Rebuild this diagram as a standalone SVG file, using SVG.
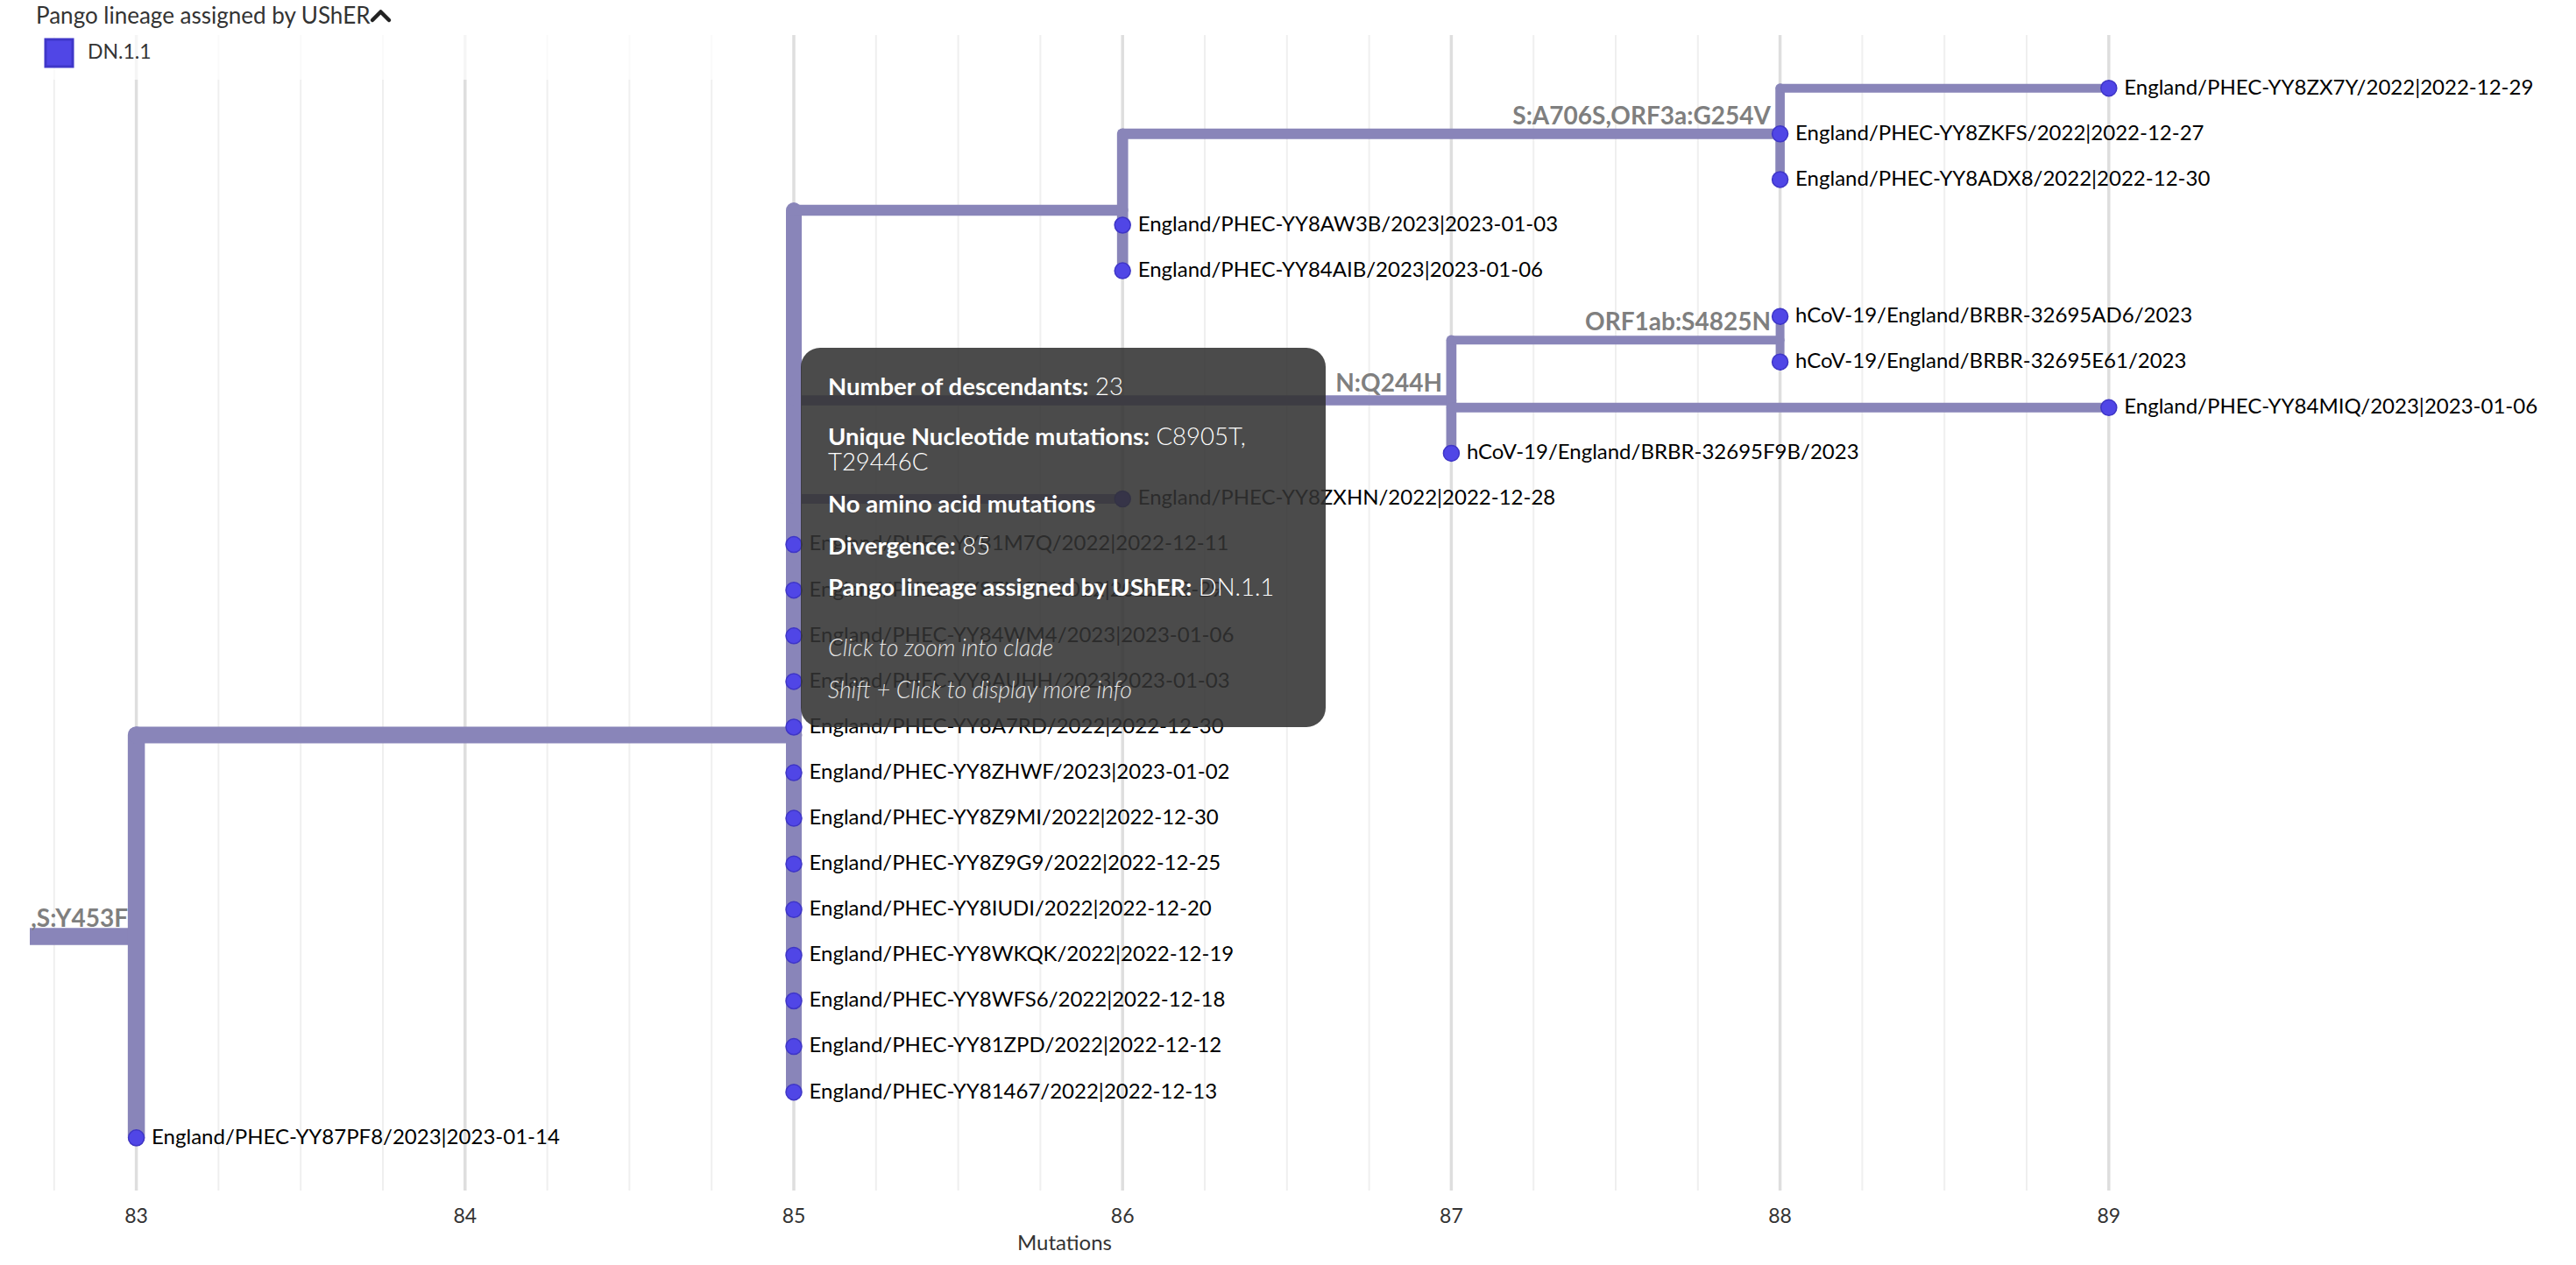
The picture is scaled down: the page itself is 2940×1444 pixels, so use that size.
<svg xmlns="http://www.w3.org/2000/svg" width="2940" height="1444" viewBox="0 0 2940 1444">
<style>
  .minor{stroke:#efefef;stroke-width:2}
  .major{stroke:#dedede;stroke-width:3.5}
  .br{fill:none;stroke:#8985b9;stroke-linecap:round}
  .dot{fill:#5046e6;stroke:#3e35c6;stroke-width:1.5}
  .lf{font-family:Lato,"Liberation Sans",sans-serif;font-size:24px;fill:#000}
  .mut{font-family:Lato,"Liberation Sans",sans-serif;font-size:28px;font-weight:700;fill:#7f7f7f;text-anchor:end}
  .ax{font-family:Lato,"Liberation Sans",sans-serif;font-size:23px;fill:#333;text-anchor:middle}
  .tt{font-family:Lato,"Liberation Sans",sans-serif;font-size:27.5px;fill:#fff}
  .tb{font-weight:700}
  .tl{font-weight:300}
  .ti{font-weight:300;font-style:italic;fill:#e4e4e4;font-size:26.5px}
  .lg{font-family:Lato,"Liberation Sans",sans-serif;font-size:26px;fill:#333}
</style>
<defs>
  <clipPath id="plot"><rect x="34" y="0" width="2906" height="1444"/></clipPath>
</defs>
<rect width="2940" height="1444" fill="#fff"/>
<g id="grid">
  <path class="minor" d="M61.8,40V1359 M249.4,40V1359 M343.2,40V1359 M437,40V1359 M624.6,40V1359 M718.4,40V1359 M812.2,40V1359 M999.8,40V1359 M1093.6,40V1359 M1187.4,40V1359 M1375,40V1359 M1468.8,40V1359 M1562.6,40V1359 M1750.2,40V1359 M1844,40V1359 M1937.8,40V1359 M2125.4,40V1359 M2219.2,40V1359 M2313,40V1359"/>
  <path class="major" d="M155.6,40V1359 M530.8,40V1359 M906,40V1359 M1281.2,40V1359 M1656.4,40V1359 M2031.6,40V1359 M2406.8,40V1359"/>
  <rect x="0" y="36" width="880" height="55" fill="#fff" opacity="0.7"/>
</g>
<g id="axis">
  <text class="ax" x="155.6" y="1396">83</text>
  <text class="ax" x="530.8" y="1396">84</text>
  <text class="ax" x="906" y="1396">85</text>
  <text class="ax" x="1281.2" y="1396">86</text>
  <text class="ax" x="1656.4" y="1396">87</text>
  <text class="ax" x="2031.6" y="1396">88</text>
  <text class="ax" x="2406.8" y="1396">89</text>
  <text class="ax" x="1215" y="1427" style="font-size:24px">Mutations</text>
</g>
<g id="legend">
  <text class="lg" x="41" y="27">Pango lineage assigned by UShER</text>
  <path d="M425,23 L434.5,13.5 L444,23" fill="none" stroke="#222" stroke-width="4.5" stroke-linecap="round" stroke-linejoin="round"/>
  <rect x="52" y="45" width="31" height="31" fill="#5046e6" stroke="#3f37c9" stroke-width="3"/>
  <text class="lg" x="100" y="67" style="font-size:23px">DN.1.1</text>
</g>
<g id="connectors" clip-path="url(#plot)">
  <path class="br" d="M30,1069H155.6" style="stroke-width:19.5;stroke-linecap:butt"/>
  <path class="br" d="M155.6,839V1298.8" style="stroke-width:19.5"/>
  <path class="br" d="M155.6,839H906" style="stroke-width:19"/>
  <path class="br" d="M906,240V1246.7" style="stroke-width:18"/>
  <path class="br" d="M906,240H1281.2" style="stroke-width:12.7"/>
  <path class="br" d="M1281.2,152.8V309.1" style="stroke-width:12.7"/>
  <path class="br" d="M1281.2,152.8H2031.6" style="stroke-width:12"/>
  <path class="br" d="M2031.6,100.7V204.9" style="stroke-width:10.7"/>
  <path class="br" d="M2031.6,100.7H2406.8" style="stroke-width:10"/>
  <path class="br" d="M906,457H1656.4" style="stroke-width:11.7"/>
  <path class="br" d="M1656.4,388.3V517.4" style="stroke-width:11.7"/>
  <path class="br" d="M1656.4,388.3H2031.6" style="stroke-width:10"/>
  <path class="br" d="M2031.6,361.2V413.2" style="stroke-width:10"/>
  <path class="br" d="M1656.4,465.3H2406.8" style="stroke-width:11"/>
  <path class="br" d="M906,569.5H1281.2" style="stroke-width:11"/>
  <text class="mut" x="146" y="1058">,S:Y453F</text>
  <text class="mut" x="2021" y="142">S:A706S,ORF3a:G254V</text>
  <text class="mut" x="2021" y="377">ORF1ab:S4825N</text>
  <text class="mut" x="1646" y="447">N:Q244H</text>
</g>
<g id="n-ZX7Y"><circle class="dot" cx="2406.8" cy="100.7" r="9"/><text class="lf" x="2424.3" y="107.5">England/PHEC-YY8ZX7Y/2022|2022-12-29</text></g>
<g id="n-ZKFS"><circle class="dot" cx="2031.6" cy="152.8" r="9"/><text class="lf" x="2049.1" y="159.6">England/PHEC-YY8ZKFS/2022|2022-12-27</text></g>
<g id="n-ADX8"><circle class="dot" cx="2031.6" cy="204.9" r="9"/><text class="lf" x="2049.1" y="211.7">England/PHEC-YY8ADX8/2022|2022-12-30</text></g>
<g id="n-AW3B"><circle class="dot" cx="1281.2" cy="257" r="9"/><text class="lf" x="1298.7" y="263.8">England/PHEC-YY8AW3B/2023|2023-01-03</text></g>
<g id="n-AIB"><circle class="dot" cx="1281.2" cy="309.1" r="9"/><text class="lf" x="1298.7" y="315.9">England/PHEC-YY84AIB/2023|2023-01-06</text></g>
<g id="n-AD6"><circle class="dot" cx="2031.6" cy="361.2" r="9"/><text class="lf" x="2049.1" y="368">hCoV-19/England/BRBR-32695AD6/2023</text></g>
<g id="n-E61"><circle class="dot" cx="2031.6" cy="413.2" r="9"/><text class="lf" x="2049.1" y="420">hCoV-19/England/BRBR-32695E61/2023</text></g>
<g id="n-MIQ"><circle class="dot" cx="2406.8" cy="465.3" r="9"/><text class="lf" x="2424.3" y="472.1">England/PHEC-YY84MIQ/2023|2023-01-06</text></g>
<g id="n-F9B"><circle class="dot" cx="1656.4" cy="517.4" r="9"/><text class="lf" x="1673.9" y="524.2">hCoV-19/England/BRBR-32695F9B/2023</text></g>
<g id="n-ZXHN"><circle class="dot" cx="1281.2" cy="569.5" r="9"/><text class="lf" x="1298.7" y="576.3">England/PHEC-YY8ZXHN/2022|2022-12-28</text></g>
<g id="n-M7Q"><circle class="dot" cx="906" cy="621.6" r="9"/><text class="lf" x="923.5" y="628.4">England/PHEC-YY81M7Q/2022|2022-12-11</text></g>
<g id="n-M9F"><circle class="dot" cx="906" cy="673.7" r="9"/><text class="lf" x="923.5" y="680.5">England/PHEC-YY87M9F/2022|2022-12-29</text></g>
<g id="n-WM4"><circle class="dot" cx="906" cy="725.8" r="9"/><text class="lf" x="923.5" y="732.6">England/PHEC-YY84WM4/2023|2023-01-06</text></g>
<g id="n-AUHH"><circle class="dot" cx="906" cy="777.9" r="9"/><text class="lf" x="923.5" y="784.7">England/PHEC-YY8AUHH/2023|2023-01-03</text></g>
<g id="n-A7RD"><circle class="dot" cx="906" cy="830" r="9"/><text class="lf" x="923.5" y="836.8">England/PHEC-YY8A7RD/2022|2022-12-30</text></g>
<g id="n-ZHWF"><circle class="dot" cx="906" cy="882.1" r="9"/><text class="lf" x="923.5" y="888.9">England/PHEC-YY8ZHWF/2023|2023-01-02</text></g>
<g id="n-Z9MI"><circle class="dot" cx="906" cy="934.1" r="9"/><text class="lf" x="923.5" y="940.9">England/PHEC-YY8Z9MI/2022|2022-12-30</text></g>
<g id="n-Z9G9"><circle class="dot" cx="906" cy="986.2" r="9"/><text class="lf" x="923.5" y="993">England/PHEC-YY8Z9G9/2022|2022-12-25</text></g>
<g id="n-IUDI"><circle class="dot" cx="906" cy="1038.3" r="9"/><text class="lf" x="923.5" y="1045.1">England/PHEC-YY8IUDI/2022|2022-12-20</text></g>
<g id="n-WKQK"><circle class="dot" cx="906" cy="1090.4" r="9"/><text class="lf" x="923.5" y="1097.2">England/PHEC-YY8WKQK/2022|2022-12-19</text></g>
<g id="n-WFS6"><circle class="dot" cx="906" cy="1142.5" r="9"/><text class="lf" x="923.5" y="1149.3">England/PHEC-YY8WFS6/2022|2022-12-18</text></g>
<g id="n-1ZPD"><circle class="dot" cx="906" cy="1194.6" r="9"/><text class="lf" x="923.5" y="1201.4">England/PHEC-YY81ZPD/2022|2022-12-12</text></g>
<g id="n-1467"><circle class="dot" cx="906" cy="1246.7" r="9"/><text class="lf" x="923.5" y="1253.5">England/PHEC-YY81467/2022|2022-12-13</text></g>
<g id="n-87PF8"><circle class="dot" cx="155.6" cy="1298.8" r="9"/><text class="lf" x="173.1" y="1305.6">England/PHEC-YY87PF8/2023|2023-01-14</text></g>
<g id="tooltip">
  <rect x="914" y="397" width="599" height="433" rx="22" fill="#323232" opacity="0.88"/>
  <text class="tt" x="945" y="451"><tspan class="tb">Number of descendants:</tspan><tspan class="tl"> 23</tspan></text>
  <text class="tt" x="945" y="508"><tspan class="tb">Unique Nucleotide mutations:</tspan><tspan class="tl"> C8905T,</tspan></text>
  <text class="tt tl" x="945" y="537">T29446C</text>
  <text class="tt tb" x="945" y="585">No amino acid mutations</text>
  <text class="tt" x="945" y="633"><tspan class="tb">Divergence:</tspan><tspan class="tl"> 85</tspan></text>
  <text class="tt" x="945" y="680"><tspan class="tb">Pango lineage assigned by UShER:</tspan><tspan class="tl"> DN.1.1</tspan></text>
  <text class="tt ti" x="945" y="749">Click to zoom into clade</text>
  <text class="tt ti" x="945" y="797">Shift + Click to display more info</text>
</g>
</svg>
